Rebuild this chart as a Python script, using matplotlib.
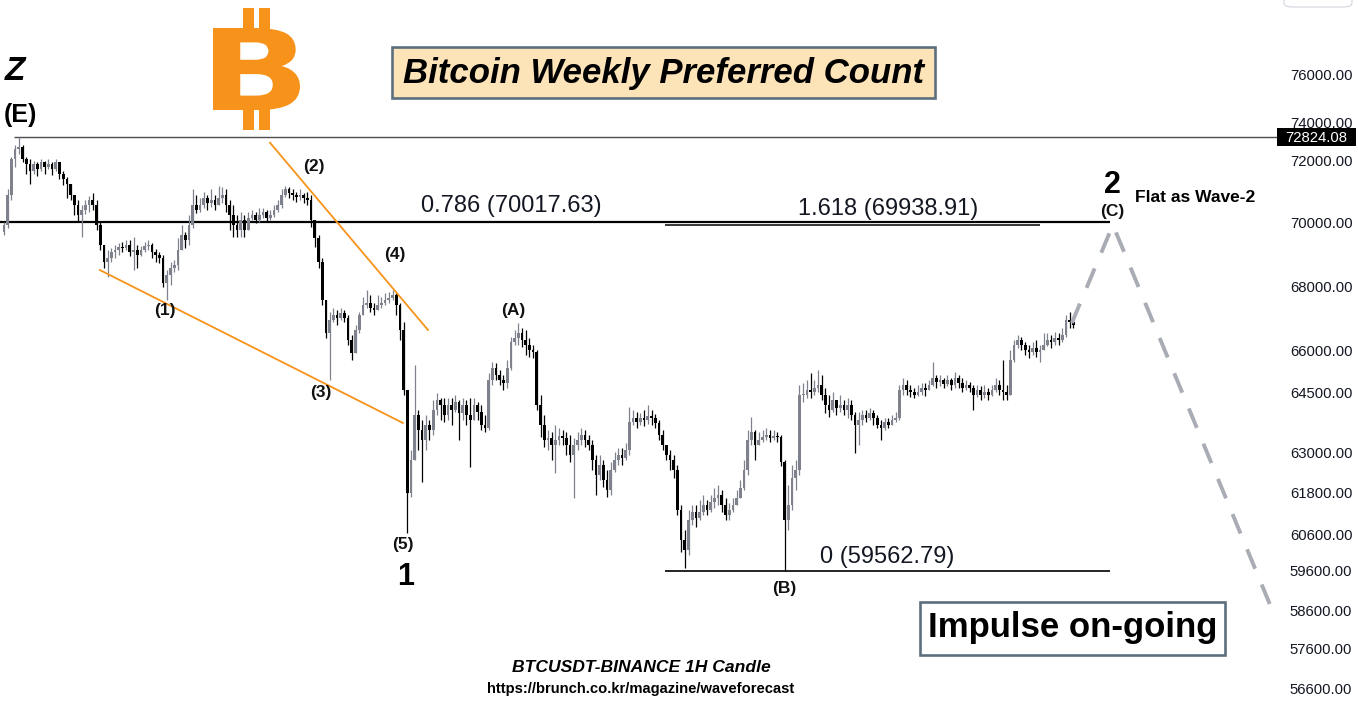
import matplotlib
matplotlib.use('Agg')
import matplotlib.pyplot as plt
from matplotlib.patches import Rectangle, FancyBboxPatch, PathPatch
from matplotlib.ticker import FixedLocator, FuncFormatter, NullLocator
from matplotlib.textpath import TextPath
from matplotlib.font_manager import FontProperties
from matplotlib.transforms import Affine2D
import numpy as np

plt.rcParams['font.family'] = ['Liberation Sans', 'DejaVu Sans']

# ---------------- data (BTCUSDT 1H candles) ----------------
open0 = 69719
closes = [
    69938, 70903, 72035, 72378, 72481, 72035, 71871, 71645, 71871, 71710,
    71935, 71774, 71871, 71710, 71935, 71548, 71387, 71226, 70903, 70581,
    70258, 70419, 70581, 70742, 70581, 69938, 69313, 68781, 68906, 69094,
    69156, 69250, 69219, 69313, 69094, 69156, 69000, 69156, 69281, 69313,
    69094, 69000, 68906, 68125, 68375, 68594, 68688, 69156, 69625, 69469,
    69938, 70581, 70419, 70581, 70806, 70645, 70742, 70581, 70806, 70903,
    70581, 70258, 69938, 69781, 70097, 69781, 70161, 70258, 70097, 70258,
    70355, 70161, 70258, 70419, 70581, 70903, 71065, 70968, 70903, 70839,
    70903, 70806, 70742, 70097, 69531, 68781, 67594, 66563, 66969, 67125,
    67031, 67188, 67031, 66344, 65929, 66656, 67125, 67438, 67500, 67344,
    67281, 67438, 67500, 67594, 67656, 67750, 67438, 66656, 64607, 61800,
    62766, 63941, 63560, 63306, 63687, 63560, 64068, 64322, 64195, 63941,
    64195, 64068, 64271, 63992, 64195, 63941, 63814, 64195, 64017, 63687,
    63611, 64964, 65393, 65143, 64964, 64857, 65393, 66281, 66406, 66563,
    66344, 66188, 66031, 65964, 64195, 63687, 63306, 63357, 63179, 63306,
    63408, 63357, 63179, 62912, 63179, 63306, 63433, 63306, 63179, 62766,
    62326, 62619, 62180, 61887, 62473, 62766, 62912, 62824, 63052, 63763,
    63865, 63763, 63865, 63814, 63916, 63865, 63738, 63433, 63179, 62912,
    62766, 62473, 61314, 60457, 60171, 61029, 61257, 61086, 61257, 61457,
    61314, 61543, 61657, 61743, 61457, 61171, 61314, 61457, 61657, 61946,
    62473, 63306, 63509, 63179, 63306, 63382, 63433, 63357, 63408, 63382,
    62707, 61029, 61457, 62238, 62473, 64449, 64449, 64607, 64536, 64679,
    64786, 64449, 64195, 64068, 64322, 64119, 64195, 64068, 64195, 63941,
    63687, 63814, 63941, 63865, 63992, 63865, 63687, 63611, 63763, 63687,
    63814, 63865, 64607, 64786, 64607, 64536, 64449, 64536, 64679, 64607,
    64786, 65036, 64893, 64964, 64821, 64964, 64786, 65036, 64857, 64679,
    64786, 64679, 64449, 64607, 64449, 64536, 64449, 64607, 64786, 64607,
    64536, 64449, 65679, 66188, 66344, 66188, 66031, 65964, 66094, 65964,
    66031, 66188, 66344, 66281, 66406, 66344, 66500, 66969, 66906, 66813,
]
highs = [
    70032, 71065, 72104, 72550, 72824.08, 72550, 72104, 72035, 71968, 71935,
    72035, 71968, 72035, 71935, 72035, 71871, 71645, 71452, 71226, 70903,
    70742, 70581, 70742, 70871, 70968, 70742, 70032, 69313, 69156, 69219,
    69313, 69375, 69406, 69469, 69469, 69563, 69313, 69281, 69406, 69469,
    69375, 69188, 69094, 69000, 68531, 68781, 68844, 69531, 69938, 69719,
    70258, 71065, 70903, 70806, 71000, 70903, 71065, 70903, 71161, 71129,
    71065, 70742, 70581, 70258, 70355, 70258, 70355, 70419, 70355, 70484,
    70484, 70419, 70419, 70581, 70742, 71065, 71161, 71129, 71065, 71000,
    71065, 70968, 71000, 70903, 70032, 69625, 68906, 67594, 67219, 67344,
    67281, 67344, 67281, 67125, 66500, 66813, 67219, 67688, 67906, 67750,
    67500, 67750, 67688, 67813, 67844, 67906, 67813, 67500, 66900, 64607,
    63052, 65500, 64068, 63814, 63941, 63814, 64322, 64500, 64373, 64373,
    64373, 64373, 64449, 64322, 64373, 64322, 64373, 64373, 64271, 64195,
    63941, 65214, 65607, 65571, 65321, 65143, 65679, 66438, 66656, 66875,
    66719, 66656, 66406, 66188, 66031, 64449, 63941, 63560, 63509, 63687,
    63611, 63560, 63509, 63433, 63357, 63509, 63611, 63560, 63433, 63306,
    62912, 62912, 62766, 62473, 62707, 63000, 63103, 63103, 63230, 64144,
    64068, 64017, 63992, 64068, 64195, 64068, 63967, 63814, 63560, 63179,
    63052, 62912, 62619, 61457, 60743, 61314, 61457, 61457, 61600, 61743,
    61600, 61743, 61946, 62034, 61887, 61657, 61514, 61657, 61887, 62180,
    62766, 63560, 63890, 63560, 63509, 63560, 63611, 63560, 63560, 63509,
    63433, 62766, 62034, 62619, 62766, 64786, 64857, 64964, 65214, 64964,
    65321, 65143, 64679, 64449, 64536, 64322, 64449, 64322, 64373, 64322,
    64017, 64017, 64068, 64068, 64119, 64068, 63941, 63814, 63865, 63865,
    63941, 64017, 64786, 65036, 64964, 64786, 64679, 64786, 64857, 64857,
    64964, 65607, 65143, 65143, 65036, 65143, 65036, 65250, 65143, 65036,
    64964, 64893, 64786, 64786, 64750, 64786, 64679, 64786, 65036, 64964,
    65679, 64786, 66031, 66344, 66500, 66438, 66281, 66188, 66281, 66344,
    66188, 66563, 66563, 66500, 66594, 66563, 66719, 67125, 67219, 67031,
]
lows = [
    69625, 69844, 70742, 71774, 72207, 71935, 71548, 71226, 71548, 71484,
    71645, 71548, 71710, 71516, 71645, 71387, 71194, 70806, 70742, 70258,
    70032, 69563, 70290, 70355, 70419, 69781, 69156, 68594, 68313, 68781,
    68906, 69000, 69094, 69156, 68969, 68531, 68594, 68969, 69094, 69156,
    68906, 68781, 68750, 68000, 67594, 68063, 68469, 68531, 69156, 69219,
    69313, 69844, 70323, 70355, 70484, 70419, 70516, 70419, 70581, 70645,
    70355, 69781, 69563, 69563, 69563, 69563, 69938, 70097, 70000, 70032,
    70161, 70032, 70097, 70194, 70355, 70484, 70839, 70806, 70742, 70677,
    70742, 70645, 70581, 69875, 69250, 68594, 67438, 66406, 64964, 66906,
    66813, 66969, 66906, 66188, 65679, 65964, 66563, 67219, 67344, 67219,
    67125, 67281, 67344, 67438, 67500, 67594, 67125, 66344, 64449, 60657,
    61686, 62912, 63052, 62121, 63052, 63306, 63433, 63941, 63814, 63763,
    63814, 63687, 64017, 63306, 63814, 63687, 62561, 63814, 63814, 63560,
    63509, 63560, 64786, 64964, 64786, 64607, 64679, 65321, 66188, 66188,
    66125, 65857, 65786, 65750, 64068, 63382, 63128, 63052, 62766, 62385,
    63179, 63179, 62912, 62707, 61657, 63052, 63179, 63128, 63052, 62473,
    61743, 62180, 61975, 61686, 61743, 62414, 62619, 62619, 62766, 62912,
    63687, 63611, 63687, 63662, 63713, 63687, 63611, 63306, 63052, 62766,
    62473, 62238, 61171, 60114, 59657, 60029, 60886, 60829, 61029, 61171,
    61171, 61257, 61371, 61457, 61257, 61029, 61029, 61257, 61457, 61743,
    61887, 62326, 63179, 62766, 63179, 63255, 63306, 63255, 63306, 63255,
    62590, 59562.79, 60743, 61314, 61887, 62326, 64271, 64373, 64373, 64449,
    64536, 64322, 63992, 63890, 64017, 63941, 64017, 63941, 63865, 63814,
    62971, 63179, 63687, 63763, 63814, 63687, 63611, 63306, 63560, 63611,
    63687, 63763, 63814, 64449, 64449, 64398, 64373, 64424, 64449, 64424,
    64607, 64750, 64679, 64750, 64679, 64750, 64607, 64679, 64679, 64536,
    64607, 64536, 64068, 64398, 64322, 64373, 64322, 64424, 64536, 64449,
    64322, 64322, 64449, 65607, 66094, 66031, 65857, 65750, 65857, 65786,
    65607, 66031, 66156, 66094, 66188, 66188, 66281, 66438, 66719, 66719,
]

# price axis labels (irregular TradingView-style scale) and their screen rows
scale_values = [56215, 56600, 57600, 58600, 59600, 60600, 61800, 63000, 64500,
                66000, 68000, 70000, 72000, 72824.08, 74000, 76000, 78640]
scale_rows = [703, 688, 649, 610, 570, 535, 493, 452, 393,
              351, 287, 223, 160, 137, 123, 74, 0]
tick_values = [76000, 74000, 72000, 70000, 68000, 66000, 64500, 63000,
               61800, 60600, 59600, 58600, 57600, 56600]

z_high = 72824.08
fib_0786 = 70017.63
fib_1618 = 69938.91
fib_0 = 59562.79

# annotation lines (candle index, price)
trend_upper = [(71.9, 72618), (114.6, 66656)]
trend_lower = [(25.9, 68531), (107.8, 63738)]
proj_x = [288.6, 299.7, 342.2]
proj_y = [66875, 69938.91, 58725]

# ---------------- figure ----------------
W, H = 1358, 703
fig = plt.figure(figsize=(W / 100, H / 100), dpi=100)
fig.patch.set_facecolor('white')
ax = fig.add_axes([0, 0, 1278 / W, 1])
ax.set_facecolor('white')

VALS = np.array(scale_values, dtype=float)
ROWS = H - np.array(scale_rows, dtype=float)


def fwd(v):
    return np.interp(np.asarray(v, dtype=float), VALS, ROWS)


def inv(u):
    return np.interp(np.asarray(u, dtype=float), ROWS, VALS)


ax.set_yscale('function', functions=(fwd, inv))
ax.set_ylim(VALS[0], VALS[-1])
ax.set_xlim(-4 / 3.7, (1278 - 4) / 3.7)

c = np.array(closes, dtype=float)
o = np.concatenate([[open0], c[:-1]])
hi = np.maximum(np.array(highs, dtype=float), np.maximum(o, c))
lo = np.minimum(np.array(lows, dtype=float), np.minimum(o, c))
x = np.arange(len(c))
up = c >= o
UP, DOWN = '#7f828d', '#000000'
cols = np.where(up, UP, DOWN)
ax.vlines(x, lo, hi, colors=cols, lw=0.9, zorder=2)
bottoms = np.minimum(o, c)
heights = np.maximum(np.abs(c - o), 35)
ax.bar(x, heights, bottom=bottoms, width=0.74, color=cols, edgecolor='none', zorder=3)

# levels
ax.hlines(z_high, 2.7, (1278 - 4) / 3.7, color='#4d4d4d', lw=1.0, zorder=1)
ax.hlines(fib_0786, -2, 298.9, color='black', lw=1.6, zorder=1)
ax.hlines(fib_1618, 178.6, 280.0, color='black', lw=1.1, zorder=1)
ax.hlines(fib_0, 178.6, 298.9, color='black', lw=1.2, zorder=1)

# orange wedge lines
for seg in (trend_upper, trend_lower):
    ax.plot([seg[0][0], seg[1][0]], [seg[0][1], seg[1][1]], color='#f7931a', lw=1.3, zorder=4)

# projection
ax.plot(proj_x, proj_y, color='#a9acb5', lw=2.8, dashes=(5.4, 4.4), zorder=4,
        solid_capstyle='butt', dash_capstyle='butt')

# axis styling
ax.yaxis.tick_right()
ax.yaxis.set_major_locator(FixedLocator(tick_values))
ax.yaxis.set_minor_locator(NullLocator())
ax.yaxis.set_major_formatter(FuncFormatter(lambda v, p: f'{v:.2f}'))
ax.tick_params(axis='y', length=0, pad=8.6, labelsize=10.7, labelcolor='#131722')
ax.set_xticks([])
for s in ax.spines.values():
    s.set_visible(False)


def ftext(px, py, s, **kw):
    kw.setdefault('ha', 'center')
    kw.setdefault('va', 'center')
    fig.text(px / W, 1 - py / H, s, **kw)


def frect(x0, y0, x1, y1, **kw):
    fig.add_artist(Rectangle((x0 / W, 1 - y1 / H), (x1 - x0) / W, (y1 - y0) / H,
                             transform=fig.transFigure, **kw))


# price label
frect(1277, 128, 1356, 146, facecolor='black', edgecolor='none', zorder=5)
ftext(1316.5, 137.5, '72824.08', color='white', fontsize=10.7, zorder=6)
fig.add_artist(FancyBboxPatch((1284 / W, 1 - 7 / H), 68 / W, 20 / H,
                              boxstyle='round,pad=0,rounding_size=0.006',
                              transform=fig.transFigure, facecolor='white',
                              edgecolor='#d1d4dc', lw=0.8, zorder=5))

# bitcoin logo: a bold B fitted into its box, plus the four stubs
ORANGE = '#f7931a'
tp = TextPath((0, 0), 'B', size=100, prop=FontProperties(family='DejaVu Sans', weight='bold'))
bb = tp.get_extents()
bx0, bx1, by_top, by_bot = 213, 300, 28, 110
tr = (Affine2D().translate(-bb.x0, -bb.y0)
      .scale((bx1 - bx0) / bb.width, (by_bot - by_top) / bb.height)
      .translate(bx0, H - by_bot))
fig.add_artist(PathPatch(tp, transform=tr, facecolor=ORANGE, edgecolor='none', zorder=2))
for (xa, xb) in ((243, 254), (259, 270)):
    frect(xa, 8, xb, 30, facecolor=ORANGE, edgecolor='none')
    frect(xa, 108, xb, 130, facecolor=ORANGE, edgecolor='none')

# title box
frect(392, 47, 935, 98, facecolor='#fde3b8', edgecolor='#5b6f7e', lw=1.9, zorder=4)
ftext(664, 73, 'Bitcoin Weekly Preferred Count', fontsize=25, fontweight='bold',
      fontstyle='italic', color='black', zorder=6)

# Impulse box
frect(920, 602, 1225, 655, facecolor='white', edgecolor='#5b6f7e', lw=1.9, zorder=4)
ftext(1073, 628, 'Impulse on-going', fontsize=25, fontweight='bold', color='black', zorder=6)

# wave labels
ftext(15, 72, 'Z', fontsize=24, fontweight='bold', fontstyle='italic')
ftext(20, 115, '(E)', fontsize=18, fontweight='bold')
for (px, py, s) in [(165, 311, '(1)'), (314, 166, '(2)'), (321, 392, '(3)'),
                    (395, 254, '(4)'), (403, 545, '(5)'), (513, 311, '(A)'),
                    (784, 588, '(B)'), (1112, 212, '(C)')]:
    ftext(px, py, s, fontsize=12.5, fontweight='bold', color='#111111')
ftext(406, 577, '1', fontsize=22, fontweight='bold')
ftext(1112, 185, '2', fontsize=22, fontweight='bold')
ftext(1135, 198, 'Flat as Wave-2', fontsize=12.5, fontweight='bold', ha='left')

# fib texts
ftext(511, 206, '0.786 (70017.63)', fontsize=17, color='#131722')
ftext(888, 209, '1.618 (69938.91)', fontsize=17, color='#131722')
ftext(887, 557, '0 (59562.79)', fontsize=17, color='#131722')

# footer
ftext(641, 668, 'BTCUSDT-BINANCE 1H Candle', fontsize=12.6, fontweight='bold', fontstyle='italic')
ftext(641, 689, 'https://brunch.co.kr/magazine/waveforecast', fontsize=10.6, fontweight='bold')

fig.savefig('out.png', dpi=100, facecolor='white')
